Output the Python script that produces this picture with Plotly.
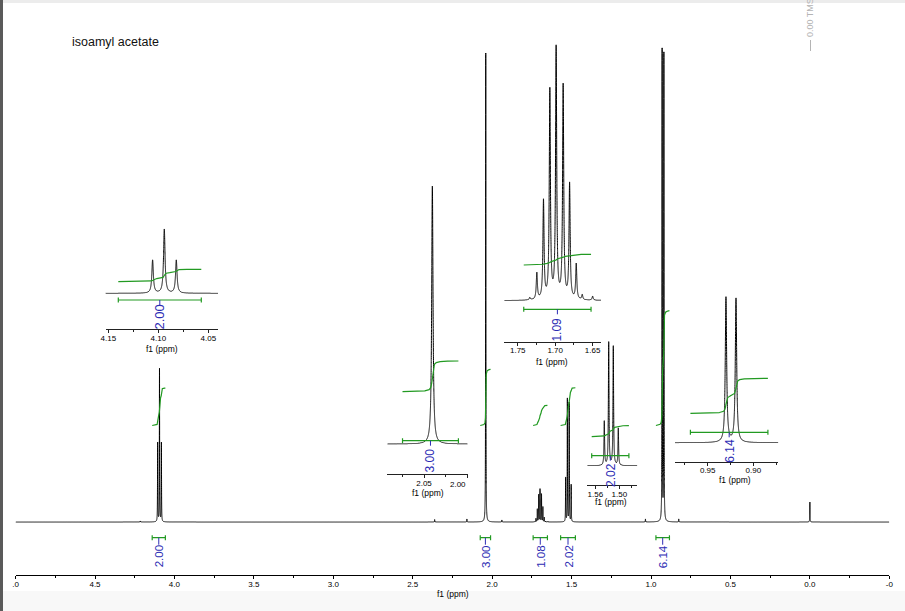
import numpy as np
import plotly.graph_objects as go

W, H = 905, 611

# ---------------- data ----------------
TITLE = "isoamyl acetate"
TMS_LABEL = "0.00 TMS"

# peak lists: position (ppm) and height as read on the full spectrum
trip_ppm = [4.1057, 4.0940, 4.0820]
trip_int = [79.0, 153.0, 79.0]
sing_ppm = [2.0403]
sing_int = [469.0]
mult_ppm = [1.7339, 1.7245, 1.7156, 1.7071, 1.6987, 1.6893, 1.6807, 1.6718, 1.6638, 1.6499]
mult_int = [0.30, 3.44, 12.8, 27.2, 32.7, 27.8, 15.0, 4.6, 0.65, 0.52]
quart_ppm = [1.5375, 1.5265, 1.5150, 1.5025]
quart_int = [44.0, 123.0, 119.0, 37.0]
doub_ppm = [0.9300, 0.9190]
doub_int = [471.0, 467.0]
small_ppm = [4.215, 2.362, 2.159, 1.939, 1.035, 0.8255, 0.0]
small_int = [1.0, 2.5, 3.0, 2.0, 3.0, 3.0, 20.0]

# integration regions and values
int_from = [4.140, 2.075, 1.742, 1.569, 0.969]
int_to = [4.057, 2.010, 1.652, 1.476, 0.884]
int_main_values = [2.00, 3.00, 1.08, 2.02, 6.14]
int_main_labels = ["2.00", "3.00", "1.08", "2.02", "6.14"]
int_inset_values = [2.00, 3.00, 1.09, 2.02, 6.14]
int_inset_labels = ["2.00", "3.00", "1.09", "2.02", "6.14"]

# axis ticks
main_tickvals = [5.0, 4.5, 4.0, 3.5, 3.0, 2.5, 2.0, 1.5, 1.0, 0.5, 0.0, -0.5]
main_ticktext = [".0", "4.5", "4.0", "3.5", "3.0", "2.5", "2.0", "1.5", "1.0", "0.5", "0.0", "-0"]
main_minor = [4.75, 4.25, 3.75, 3.25, 2.75, 2.25, 1.75, 1.25, 0.75, 0.25, -0.25]
inset_tickvals = [[4.15, 4.10, 4.05], [2.05, 2.00], [1.75, 1.70, 1.65], [1.56, 1.50], [0.95, 0.90]]
inset_ticktext = [["4.15", "4.10", "4.05"], ["2.05", ""], ["1.75", "1.70", "1.65"],
                  ["1.56", "1.50"], ["0.95", "0.90"]]
inset_minor = [[4.125, 4.075], [2.075, 2.025], [1.725, 1.675], [1.53, 1.47], [0.975, 0.925, 0.875]]
# edge label that the original pulls inside the axis end
edge_label_text = "2.00"
AXIS_TITLE = "f1 (ppm)"

# ---------------- styles / layout geometry (pixels) ----------------
GREEN = "#229a22"
BLUE = "#2d2db4"
FONT = "Liberation Sans"
LW_PPM = 0.0009  # line half width

MAIN = dict(x0=15.57, x1=889.3, axis_py=575.3, base_py=522.0,
            int_base=96.5, int_unit=18.7, bar_y=-15.7, label_y=-34.5, f1_x=452.5, f1_py=594.0)
INSETS = [
    dict(x0=105.5, x1=218.0, rng=(4.1528, 4.0403), axis_py=329.3, base_py=293.3, scale=0.418,
         int_base=11.6, int_unit=6.2, bar_y=-6.7, label_y=-23.4, f1_x=162.0, f1_py=348.7, lsize=13),
    dict(x0=387.3, x1=467.7, rng=(2.0927, 1.9992), axis_py=474.0, base_py=444.0, scale=0.55,
         int_base=52.3, int_unit=10.23, bar_y=3.3, label_y=-16.0, f1_x=427.5, f1_py=493.3, lsize=12),
    dict(x0=504.3, x1=601.0, rng=(1.768, 1.6387), axis_py=341.7, base_py=300.7, scale=7.67,
         int_base=35.7, int_unit=9.8, bar_y=-8.6, label_y=-28.5, f1_x=551.7, f1_py=361.7, lsize=12),
    dict(x0=587.3, x1=637.3, rng=(1.58, 1.455), axis_py=485.0, base_py=465.7, scale=1.0,
         int_base=29.0, int_unit=5.45, bar_y=10.0, label_y=-9.0, f1_x=611.3, f1_py=501.7, lsize=12),
    dict(x0=675.0, x1=778.3, rng=(0.9859, 0.8726), axis_py=461.7, base_py=442.7, scale=0.308,
         int_base=29.4, int_unit=5.7, bar_y=10.4, label_y=-7.8, f1_x=734.7, f1_py=480.0, lsize=12),
]
EDGE_LABEL_POS = (458.3, 484.0)  # px position of the pulled-in inset label

all_ppm = np.array(trip_ppm + sing_ppm + mult_ppm + quart_ppm + doub_ppm + small_ppm)
all_int = np.array(trip_int + sing_int + mult_int + quart_int + doub_int + small_int)


def spectrum(x):
    y = np.zeros_like(x)
    for p, h in zip(all_ppm, all_int):
        y += h * LW_PPM ** 2 / ((x - p) ** 2 + LW_PPM ** 2)
    return y


def grid(lo, hi, n):
    g = [np.linspace(lo, hi, n)]
    for c in all_ppm:
        if lo - 0.01 <= c <= hi + 0.01:
            g.append(c + np.linspace(-0.006, 0.006, 241))
    x = np.unique(np.concatenate(g))
    return x[(x >= lo) & (x <= hi)]


def integral_curve(a, b, val, base, unit):
    hi, lo = max(a, b), min(a, b)
    x = grid(lo, hi, 1500)[::-1]  # from high ppm to low ppm
    y = spectrum(x)
    cum = np.concatenate([[0.0], np.cumsum(0.5 * (y[1:] + y[:-1]) * np.abs(np.diff(x)))])
    cum = cum / cum[-1]
    return x, base + cum * val * unit


def bar_xy(a, b, yb, cap=2.5):
    xs = [a, b, None, a, a, None, b, b]
    ys = [yb, yb, None, yb - cap, yb + cap, None, yb - cap, yb + cap]
    return xs, ys


fig = go.Figure()
annotations = []
layout_axes = {}

TICKFONT = dict(family=FONT, size=8, color="#000000")
TICKLEN, MINORLEN, STANDOFF = 3, 2, -2

# ---- main spectrum ----
xm = grid(-0.5, 5.0, 22001)
fig.add_trace(go.Scatter(x=xm, y=spectrum(xm), mode="lines", line=dict(color="black", width=1, simplify=False),
                         xaxis="x", yaxis="y", hoverinfo="skip", showlegend=False))
for i in range(5):
    cx, cy = integral_curve(int_from[i], int_to[i], int_main_values[i], MAIN["int_base"], MAIN["int_unit"])
    fig.add_trace(go.Scatter(x=cx, y=cy, mode="lines", line=dict(color=GREEN, width=1.2),
                             xaxis="x", yaxis="y", hoverinfo="skip", showlegend=False))
    bx, by = bar_xy(int_from[i], int_to[i], MAIN["bar_y"])
    fig.add_trace(go.Scatter(x=bx, y=by, mode="lines", line=dict(color=GREEN, width=1.2),
                             xaxis="x", yaxis="y", hoverinfo="skip", showlegend=False))
    mid = 0.5 * (int_from[i] + int_to[i])
    fig.add_trace(go.Scatter(x=[mid, mid], y=[MAIN["bar_y"], MAIN["bar_y"] - 7], mode="lines",
                             line=dict(color=BLUE, width=1), xaxis="x", yaxis="y",
                             hoverinfo="skip", showlegend=False))
    annotations.append(dict(x=mid, y=MAIN["label_y"], xref="x", yref="y", text=int_main_labels[i],
                            textangle=-90, showarrow=False, xanchor="center", yanchor="middle",
                            font=dict(family=FONT, size=11.5, color=BLUE)))

layout_axes["xaxis"] = dict(domain=[MAIN["x0"] / W, MAIN["x1"] / W], range=[5.0, -0.5], anchor="y",
                            showline=True, linecolor="black", linewidth=1, ticks="outside", ticklen=TICKLEN,
                            tickcolor="black", tickmode="array", tickvals=main_tickvals,
                            ticktext=main_ticktext, tickfont=TICKFONT, showgrid=False, zeroline=False,
                            automargin=False, ticklabelstandoff=STANDOFF,
                            minor=dict(tickmode="array", tickvals=main_minor, ticks="outside",
                                       ticklen=MINORLEN, tickcolor="black", showgrid=False))
layout_axes["yaxis"] = dict(domain=[1 - MAIN["axis_py"] / H, 1],
                            range=[MAIN["base_py"] - MAIN["axis_py"], MAIN["base_py"]],
                            visible=False, anchor="x", automargin=False)
annotations.append(dict(x=MAIN["f1_x"] / W, y=1 - MAIN["f1_py"] / H, xref="paper", yref="paper",
                        text=AXIS_TITLE, showarrow=False, xanchor="center", yanchor="middle",
                        font=dict(family=FONT, size=8.5, color="#000000")))

# ---- insets ----
for k, ins in enumerate(INSETS):
    n = k + 2
    xa, ya = f"x{n}", f"y{n}"
    r0, r1 = ins["rng"]
    xi = grid(r1, r0, 4000)
    fig.add_trace(go.Scatter(x=xi, y=spectrum(xi) * ins["scale"], mode="lines",
                             line=dict(color="black", width=1, simplify=False),
                             xaxis=xa, yaxis=ya, hoverinfo="skip", showlegend=False))
    cx, cy = integral_curve(int_from[k], int_to[k], int_inset_values[k], ins["int_base"], ins["int_unit"])
    fig.add_trace(go.Scatter(x=cx, y=cy, mode="lines", line=dict(color=GREEN, width=1.2),
                             xaxis=xa, yaxis=ya, hoverinfo="skip", showlegend=False))
    bx, by = bar_xy(int_from[k], int_to[k], ins["bar_y"])
    fig.add_trace(go.Scatter(x=bx, y=by, mode="lines", line=dict(color=GREEN, width=1.2),
                             xaxis=xa, yaxis=ya, hoverinfo="skip", showlegend=False))
    mid = 0.5 * (int_from[k] + int_to[k])
    fig.add_trace(go.Scatter(x=[mid, mid], y=[ins["bar_y"], ins["bar_y"] - 5], mode="lines",
                             line=dict(color=BLUE, width=1), xaxis=xa, yaxis=ya,
                             hoverinfo="skip", showlegend=False))
    annotations.append(dict(x=mid, y=ins["label_y"], xref=xa, yref=ya, text=int_inset_labels[k],
                            textangle=-90, showarrow=False, xanchor="center", yanchor="middle",
                            font=dict(family=FONT, size=ins["lsize"], color=BLUE)))
    layout_axes[f"xaxis{n}"] = dict(domain=[ins["x0"] / W, ins["x1"] / W], range=[r0, r1], anchor=ya,
                                    showline=True, linecolor="#222222", linewidth=1, ticks="outside",
                                    ticklen=TICKLEN, tickcolor="#222222", tickmode="array",
                                    tickvals=inset_tickvals[k], ticktext=inset_ticktext[k],
                                    tickfont=TICKFONT, showgrid=False, zeroline=False, automargin=False,
                                    ticklabelstandoff=STANDOFF,
                                    minor=dict(tickmode="array", tickvals=inset_minor[k], ticks="outside",
                                               ticklen=MINORLEN, tickcolor="#222222", showgrid=False))
    layout_axes[f"yaxis{n}"] = dict(domain=[1 - ins["axis_py"] / H, 1],
                                    range=[ins["base_py"] - ins["axis_py"], ins["base_py"]],
                                    visible=False, anchor=xa, automargin=False)
    annotations.append(dict(x=ins["f1_x"] / W, y=1 - ins["f1_py"] / H, xref="paper", yref="paper",
                            text=AXIS_TITLE, showarrow=False, xanchor="center", yanchor="middle",
                            font=dict(family=FONT, size=8.5, color="#000000")))

annotations.append(dict(x=EDGE_LABEL_POS[0] / W, y=1 - EDGE_LABEL_POS[1] / H, xref="paper", yref="paper",
                        text=edge_label_text, showarrow=False, xanchor="center", yanchor="middle",
                        font=TICKFONT))

# ---- title and TMS label ----
annotations.append(dict(x=69.5 / W, y=1 - 42.3 / H, xref="paper", yref="paper", text=TITLE,
                        showarrow=False, xanchor="left", yanchor="middle",
                        font=dict(family=FONT, size=12.5, color="#111111")))
annotations.append(dict(x=810.5 / W, y=1 - 39 / H, xref="paper", yref="paper", text=TMS_LABEL,
                        textangle=-90, showarrow=False, xanchor="center", yanchor="bottom",
                        font=dict(family=FONT, size=9, color="#b4b4b4")))

shapes = [
    dict(type="rect", xref="paper", yref="paper", x0=3 / W, x1=1, y0=0, y1=1 - 591 / H,
         fillcolor="#f8f8f8", line=dict(width=0), layer="below"),
    dict(type="rect", xref="paper", yref="paper", x0=0, x1=3 / W, y0=0, y1=1,
         fillcolor="#5a5a5a", line=dict(width=0), layer="below"),
    dict(type="rect", xref="paper", yref="paper", x0=3 / W, x1=1, y0=1 - 3 / H, y1=1,
         fillcolor="#ececec", line=dict(width=0), layer="below"),
    dict(type="line", xref="paper", yref="paper", x0=810.5 / W, x1=810.5 / W, y0=1 - 40 / H, y1=1 - 51 / H,
         line=dict(color="#b4b4b4", width=1)),
]

fig.update_layout(width=W, height=H, autosize=False,
                  margin=dict(l=0, r=0, t=0, b=0, pad=0, autoexpand=False),
                  paper_bgcolor="white", plot_bgcolor="rgba(0,0,0,0)", showlegend=False,
                  annotations=annotations, shapes=shapes, **layout_axes)

# pin the figure to the page corner at its exact size
POST = ("var s=document.createElement('style');"
        "s.innerHTML='html,body{margin:0 !important;padding:0 !important;overflow:hidden !important;"
        "width:%dpx;height:%dpx;background:#fff}';"
        "document.head.appendChild(s);"
        "var gd=document.getElementById('{plot_id}');"
        "gd.style.position='fixed';gd.style.left='0px';gd.style.top='0px';"
        "gd.style.width='%dpx';gd.style.height='%dpx';"
        "Plotly.relayout(gd,{autosize:false,width:%d,height:%d});" % (W, H, W, H, W, H))

fig.write_html("out.html", post_script=POST, config={"responsive": False, "displayModeBar": False})
